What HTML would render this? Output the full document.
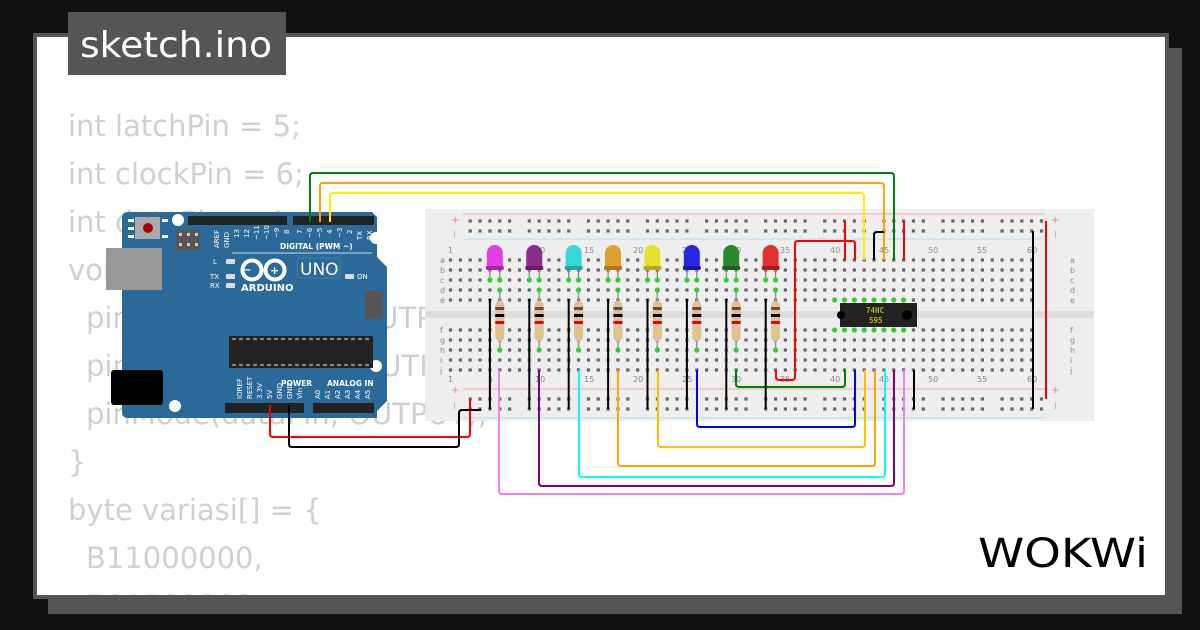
<!DOCTYPE html>
<html><head><meta charset="utf-8"><style>
html,body{margin:0;padding:0;background:#111;width:1200px;height:630px;overflow:hidden}
svg{display:block}
.code{font-family:"DejaVu Sans","Liberation Sans",sans-serif;font-size:29px;fill:#d0d0d0}
.lab{font-family:"DejaVu Sans","Liberation Sans",sans-serif;fill:#888;font-size:8px}
.aw{font-family:"DejaVu Sans","Liberation Sans",sans-serif;fill:#fff;font-size:7.5px;font-weight:bold}
</style></head><body>
<svg id="s" width="1200" height="630" viewBox="0 0 1200 630" xmlns="http://www.w3.org/2000/svg">
<defs><clipPath id="card"><rect x="37" y="37" width="1128" height="558"/></clipPath></defs>
<rect x="0" y="0" width="1200" height="630" fill="#111"/>
<rect x="48" y="48" width="1134" height="566" fill="#555"/>
<rect x="33" y="33" width="1136" height="566" fill="#555"/>
<rect x="37" y="37" width="1128" height="558" fill="#fff"/>
<rect x="68" y="12" width="218" height="63" fill="#555"/>
<text x="80" y="57" font-family="DejaVu Sans,Liberation Sans,sans-serif" font-size="36" fill="#fff" textLength="192" lengthAdjust="spacingAndGlyphs">sketch.ino</text>

<g class="code" clip-path="url(#card)">
<text x="68" y="136">int latchPin = 5;</text>
<text x="68" y="184">int clockPin = 6;</text>
<text x="68" y="232">int dataPin = 4;</text>
<text x="68" y="280">void setup() {</text>
<text x="86" y="328">pinMode(latchPin, OUTPUT);</text>
<text x="86" y="376">pinMode(clockPin, OUTPUT);</text>
<text x="86" y="424">pinMode(dataPin, OUTPUT);</text>
<text x="68" y="472">}</text>
<text x="68" y="520">byte variasi[] = {</text>
<text x="86" y="568">B11000000,</text>
<text x="86" y="616">B01100000,</text>
</g>

<!-- Arduino -->
<g>
<path d="M128,212 H372 L377,217 V257 L387,267 V401 L377,411 V418 H128 Q122,418 122,412 V218 Q122,212 128,212 Z" fill="#2b6a98"/>
<rect x="106" y="248" width="56" height="42" fill="#999"/>
<rect x="111" y="370" width="52" height="35" rx="3" fill="#000"/>
<rect x="135" y="217" width="25" height="22" fill="#aaa"/>
<circle cx="148" cy="228" r="5" fill="#a00"/>
<rect x="128" y="219" width="6" height="3" fill="#fff"/><rect x="128" y="227" width="6" height="3" fill="#fff"/><rect x="128" y="235" width="6" height="3" fill="#fff"/>
<rect x="162" y="219" width="6" height="3" fill="#fff"/><rect x="162" y="235" width="6" height="3" fill="#fff"/>
<circle cx="178" cy="220" r="6" fill="#fff"/>
<circle cx="376" cy="238" r="6" fill="#fff"/>
<circle cx="376" cy="366" r="6" fill="#fff"/>
<circle cx="175" cy="406" r="6" fill="#fff"/>
<rect x="176" y="230" width="24" height="20" fill="#555"/>
<g fill="#ccc"><rect x="179" y="233" width="3" height="3"/><rect x="187" y="233" width="3" height="3"/><rect x="195" y="233" width="3" height="3"/><rect x="179" y="243" width="3" height="3"/><rect x="187" y="243" width="3" height="3"/><rect x="195" y="243" width="3" height="3"/></g>
<rect x="188" y="216" width="99" height="9" fill="#222"/>
<rect x="293" y="216" width="81" height="9" fill="#222"/>
<rect x="225" y="403" width="79" height="10" fill="#222"/>
<rect x="313" y="403" width="61" height="10" fill="#222"/>
<rect x="365" y="291" width="18" height="28" fill="#555"/>
<rect x="229" y="336" width="144" height="32" fill="#222"/>
<line x1="232" y1="339" x2="372" y2="339" stroke="#eee" stroke-width="1" stroke-dasharray="4,3"/>
<line x1="232" y1="365" x2="372" y2="365" stroke="#eee" stroke-width="1" stroke-dasharray="4,3"/>
<line x1="232" y1="253" x2="372" y2="253" stroke="#fff" stroke-width="0.8"/>
<text class="aw" x="280" y="249">DIGITAL (PWM ~)</text>
<text class="aw" x="281" y="386" font-size="7">POWER</text>
<text class="aw" x="327" y="386" font-size="7">ANALOG IN</text>
<g font-family="DejaVu Sans,sans-serif" font-size="7" fill="#fff">
<text transform="translate(219,248) rotate(-90)">AREF</text>
<text transform="translate(229,248) rotate(-90)">GND</text>
<text transform="translate(239,238) rotate(-90)">13</text>
<text transform="translate(249,238) rotate(-90)">12</text>
<text transform="translate(259,240) rotate(-90)">~11</text>
<text transform="translate(269,240) rotate(-90)">~10</text>
<text transform="translate(279,238) rotate(-90)">~9</text>
<text transform="translate(289,234) rotate(-90)">8</text>
<text transform="translate(302,234) rotate(-90)">7</text>
<text transform="translate(312,238) rotate(-90)">~6</text>
<text transform="translate(322,238) rotate(-90)">~5</text>
<text transform="translate(332,234) rotate(-90)">4</text>
<text transform="translate(342,238) rotate(-90)">~3</text>
<text transform="translate(352,234) rotate(-90)">2</text>
<text transform="translate(362,240) rotate(-90)">TX</text>
<text transform="translate(372,240) rotate(-90)">RX</text>
<text transform="translate(242,399) rotate(-90)">IOREF</text>
<text transform="translate(252,399) rotate(-90)">RESET</text>
<text transform="translate(262,399) rotate(-90)">3.3V</text>
<text transform="translate(272,399) rotate(-90)">5V</text>
<text transform="translate(282,399) rotate(-90)">GND</text>
<text transform="translate(292,399) rotate(-90)">GND</text>
<text transform="translate(302,399) rotate(-90)">Vin</text>
<text transform="translate(320,399) rotate(-90)">A0</text>
<text transform="translate(330,399) rotate(-90)">A1</text>
<text transform="translate(340,399) rotate(-90)">A2</text>
<text transform="translate(350,399) rotate(-90)">A3</text>
<text transform="translate(360,399) rotate(-90)">A4</text>
<text transform="translate(370,399) rotate(-90)">A5</text>
<text x="213" y="264">L</text><text x="210" y="279">TX</text><text x="210" y="288">RX</text>
<text x="357" y="279">ON</text>
</g>
<rect x="226" y="259" width="9" height="5" rx="1" fill="#ddd"/>
<rect x="226" y="274" width="9" height="5" rx="1" fill="#ddd"/>
<rect x="226" y="283" width="9" height="5" rx="1" fill="#ddd"/>
<rect x="345" y="274" width="9" height="5" rx="1" fill="#ddd"/>
<circle cx="252" cy="270" r="9.5" fill="none" stroke="#fff" stroke-width="4"/>
<circle cx="275" cy="270" r="9.5" fill="none" stroke="#fff" stroke-width="4"/>
<text x="243" y="273" font-size="10" fill="#fff" font-weight="bold" font-family="DejaVu Sans,sans-serif">−</text>
<text x="270" y="274" font-size="11" fill="#fff" font-weight="bold" font-family="DejaVu Sans,sans-serif">+</text>
<text x="241" y="291" font-family="DejaVu Sans,sans-serif" font-size="10" font-weight="bold" fill="#fff">ARDUINO</text>
<rect x="297" y="258" width="43" height="20" rx="3" fill="none" stroke="#3f7fae"/>
<text x="300" y="275" font-family="DejaVu Sans,sans-serif" font-size="17" fill="#fff">UNO</text>
</g>

<!-- Breadboard -->
<rect x="425" y="209" width="669" height="212" fill="#eee"/>
<rect x="425" y="311" width="669" height="7" fill="#ddd"/>
<line x1="463" y1="214" x2="1045" y2="214" stroke="#f2b8b0" stroke-width="1.2"/>
<line x1="463" y1="239" x2="1045" y2="239" stroke="#bfe0f0" stroke-width="1.2"/>
<line x1="463" y1="389" x2="1045" y2="389" stroke="#f2b8b0" stroke-width="1.2"/>
<line x1="463" y1="418" x2="1045" y2="418" stroke="#bfe0f0" stroke-width="1.2"/>
<g font-family="DejaVu Sans,sans-serif" font-size="10" fill="#f08080"><text x="451" y="223">+</text><text x="1051" y="223">+</text><text x="451" y="393">+</text><text x="1051" y="393">+</text></g>
<g fill="#8cc8e8"><rect x="454" y="231" width="1" height="7"/><rect x="1055" y="231" width="1" height="7"/><rect x="454" y="402" width="1" height="7"/><rect x="1055" y="402" width="1" height="7"/></g>
<g id="holes" fill="#666"></g>
<g class="lab">
<text x="448" y="253">1</text><text x="535" y="253">10</text><text x="584" y="253">15</text><text x="633" y="253">20</text><text x="682" y="253">25</text><text x="731" y="253">30</text><text x="780" y="253">35</text><text x="830" y="253">40</text><text x="879" y="253">45</text><text x="928" y="253">50</text><text x="977" y="253">55</text><text x="1027" y="253">60</text>
<text x="448" y="382">1</text><text x="488" y="382">5</text><text x="535" y="382">10</text><text x="584" y="382">15</text><text x="633" y="382">20</text><text x="682" y="382">25</text><text x="731" y="382">30</text><text x="780" y="382">35</text><text x="830" y="382">40</text><text x="879" y="382">45</text><text x="928" y="382">50</text><text x="977" y="382">55</text><text x="1027" y="382">60</text>
<text x="440" y="263">a</text><text x="440" y="273">b</text><text x="440" y="283">c</text><text x="440" y="293">d</text><text x="440" y="303">e</text>
<text x="440" y="333">f</text><text x="440" y="343">g</text><text x="440" y="353">h</text><text x="440" y="363">i</text><text x="440" y="373">j</text>
<text x="1070" y="263">a</text><text x="1070" y="273">b</text><text x="1070" y="283">c</text><text x="1070" y="293">d</text><text x="1070" y="303">e</text>
<text x="1070" y="333">f</text><text x="1070" y="343">g</text><text x="1070" y="353">h</text><text x="1070" y="363">i</text><text x="1070" y="373">j</text>
</g>

<!-- chip -->
<g id="chippins" fill="#3c3"></g>
<rect x="840" y="303" width="77" height="24" fill="#222"/>
<circle cx="841" cy="315" r="4" fill="#000"/><circle cx="907" cy="315" r="5" fill="#000"/>
<text x="866" y="313" font-family="DejaVu Sans Mono,monospace" font-size="7.5" font-weight="bold" fill="#b8b020">74HC</text>
<text x="869" y="323" font-family="DejaVu Sans Mono,monospace" font-size="7.5" font-weight="bold" fill="#b8b020">595</text>

<g id="parts"></g>

<g fill="none" stroke-width="2" stroke-linejoin="round">
<path d="M310,222 V176 Q310,173 313,173 H891 Q894,173 894,176 V260" stroke="#008000"/>
<path d="M320,222 V186 Q320,183 323,183 H881 Q884,183 884,186 V260" stroke="#ffa500"/>
<path d="M330,222 V196 Q330,193 333,193 H861 Q864,193 864,196 V260" stroke="#ffee00"/>
<path d="M874,260 V235 Q874,232 877,232 H884" stroke="#000"/>
<path d="M845,221 V260" stroke="#f00"/>
<path d="M904,221 V260" stroke="#f00"/>
<path d="M1033,231 V409" stroke="#000"/>
<path d="M1046,221 V399" stroke="#f00"/>
<path d="M776,370 V377 Q776,380 779,380 H792 Q795,380 795,377 V244 Q795,241 798,241 H852 Q855,241 855,244 V260" stroke="#f00"/>
<path d="M736,370 V384 Q736,387 739,387 H842 Q845,387 845,384 V370" stroke="#008000"/>
<path d="M914,370 V409" stroke="#000"/>
<path d="M697,370 V424 Q697,427 700,427 H852 Q855,427 855,424 V370" stroke="#0000ff"/>
<path d="M658,370 V444 Q658,447 661,447 H862 Q865,447 865,444 V370" stroke="#ffbf00"/>
<path d="M618,370 V463 Q618,466 621,466 H872 Q875,466 875,463 V370" stroke="#ffa500"/>
<path d="M579,370 V474 Q579,477 582,477 H882 Q885,477 885,474 V370" stroke="#00ffff"/>
<path d="M539,370 V483 Q539,486 542,486 H891 Q894,486 894,483 V370" stroke="#800080"/>
<path d="M499,370 V491 Q499,494 502,494 H901 Q904,494 904,491 V370" stroke="#ee82ee"/>
<path d="M270,405 V434 Q270,437 273,437 H467 Q470,437 470,434 V399" stroke="#f00"/>
<path d="M289,405 V444 Q289,447 292,447 H456 Q459,447 459,444 V413 Q459,410 462,410 H481" stroke="#000"/>
</g>
<g id="blk" stroke="#000" stroke-width="2"></g>

<text x="978" y="567" font-family="DejaVu Sans,Liberation Sans,sans-serif" font-size="40" fill="#000" textLength="170" lengthAdjust="spacingAndGlyphs">WOKWi</text>
</svg>
<script>
var NS="http://www.w3.org/2000/svg";
function X(n){return 450.5+9.85*(n-1);}
function el(t,a,p){var e=document.createElementNS(NS,t);for(var k in a)e.setAttribute(k,a[k]);p.appendChild(e);return e;}
var H=document.getElementById("holes");
var rows=[260,270,280,290,300,330,340,350,360,370];
for(var n=1;n<=60;n++){for(var r=0;r<rows.length;r++)el("rect",{x:X(n)-1.6,y:rows[r]-1.6,width:3.2,height:3.2},H);}
var rr=[221,231,399,409];
for(var n=3;n<=62;n++){if((n-3)%6==5)continue;for(var r=0;r<4;r++)el("rect",{x:X(n)-1.6,y:rr[r]-1.6,width:3.2,height:3.2},H);}
var CP=document.getElementById("chippins");
for(var n=40;n<=47;n++){el("circle",{cx:X(n),cy:300,r:2.6},CP);el("circle",{cx:X(n),cy:330,r:2.6},CP);}
var P=document.getElementById("parts"),B=document.getElementById("blk");
var cols=["#e040e0","#8b2d8b","#38d8d8","#e0a030","#e8e030","#2828e0","#2a8a2a","#e03030"];
var dk=["#b020b0","#6a1a6a","#20a8a8","#b07818","#b0a818","#1818a8","#1a621a","#b01818"];
for(var i=0;i<8;i++){
 var a=5+4*i,xa=X(a),xb=X(a+1),cx=(xa+xb)/2;
 el("line",{x1:xa,y1:268,x2:xa,y2:280,stroke:"#888","stroke-width":1.3},P);
 el("line",{x1:xb,y1:268,x2:xb,y2:280,stroke:"#888","stroke-width":1.3},P);
 el("path",{d:"M"+(cx-8)+",268 V253 A8,8 0 0 1 "+(cx+8)+",253 V268 Z",fill:cols[i]},P);
 el("rect",{x:cx-9,y:266,width:18,height:4,rx:1.5,fill:dk[i]},P);
 el("circle",{cx:xa,cy:280,r:2.6,fill:"#3c3"},P);el("circle",{cx:xb,cy:280,r:2.6,fill:"#3c3"},P);
 el("line",{x1:xb,y1:290,x2:xb,y2:350,stroke:"#999","stroke-width":1.5},P);
 el("rect",{x:xb-4.5,y:301,width:9,height:40,rx:4,fill:"#d9c2a0"},P);
 el("rect",{x:xb-4.5,y:307,width:9,height:3,fill:"#7a4a1a"},P);
 el("rect",{x:xb-4.5,y:314,width:9,height:3,fill:"#000"},P);
 el("rect",{x:xb-4.5,y:321,width:9,height:3,fill:"#e00"},P);
 el("rect",{x:xb-4.5,y:332,width:9,height:3,fill:"#e8c860"},P);
 el("circle",{cx:xb,cy:290,r:2.6,fill:"#3c3"},P);el("circle",{cx:xb,cy:350,r:2.6,fill:"#3c3"},P);
 el("line",{x1:xa,y1:299,x2:xa,y2:409},B);
}
</script>
</body></html>
